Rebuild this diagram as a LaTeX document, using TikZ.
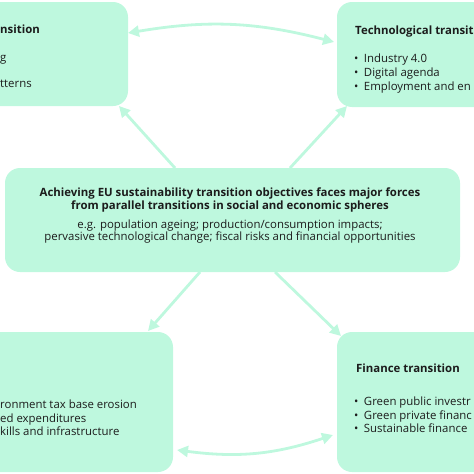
\documentclass[tikz,border=0pt]{standalone}
\usepackage{fontspec}
\setmainfont{Open Sans}
\usetikzlibrary{positioning,arrows.meta}
\definecolor{mint}{HTML}{BEF8DE}
\definecolor{ink}{HTML}{1C1C1C}

\tikzset{
  box/.style={fill=mint, rounded corners=15pt, inner sep=0pt, outer sep=0pt},
  head/.style={font=\bfseries\fontsize{11.4}{12.6}\selectfont, text=ink, inner sep=0pt},
  items/.style={font=\fontsize{11.4}{13.8}\selectfont, text=ink, inner sep=0pt, align=left},
  link/.style={draw=mint, line width=2.8pt, -{Triangle[length=11pt,width=11pt]}},
  twoway/.style={link, {Triangle[length=11pt,width=11pt]}-{Triangle[length=11pt,width=11pt]}}
}
\newcommand{\bul}{\textbullet\hspace{5.5pt}}

\begin{document}
\begin{tikzpicture}[x=1pt,y=-1pt]
    \useasboundingbox (0,0) rectangle (474,474);
    \clip (0,0) rectangle (474,474);

    %% the five boxes
    \node[box, minimum width=188pt, minimum height=104pt] (social) at (34,54) {};
    \node[box, minimum width=203pt, minimum height=105pt] (techno) at (438.5,54.5) {};
    \node[box, minimum width=455pt, minimum height=104pt] (centre) at (232.5,220) {};
    \node[box, minimum width=233pt, minimum height=140pt] (fiscal) at (56.5,402) {};
    \node[box, minimum width=203pt, minimum height=140pt] (finance) at (438.5,402) {};

    %% texts
    \node[head, anchor=base west] (social-head) at (0,33) {nsition};
    \node[items, font=\fontsize{11.4}{26.5}\selectfont, anchor=north west] (social-items) at (0,52.8)
        {\vphantom{I}g\\tterns};

    \node[head, anchor=base west] (techno-head) at (355,34.5) {Technological transit};
    \node[items, anchor=north west] (techno-items) at (354,53.8)
        {\bul Industry 4.0\\ \bul Digital agenda\\ \bul Employment and en};

    \node[head, align=center, anchor=north] (centre-head) at (230,188)
        {Achieving EU sustainability transition objectives faces major forces\\
         from parallel transitions in social and economic spheres};
    \node[items, font=\fontsize{11.4}{12.4}\selectfont, align=center, anchor=north] (centre-items) at (230,219.5)
        {e.g. population ageing; production/consumption impacts;\\
         pervasive technological change; fiscal risks and financial opportunities};

    \node[items, anchor=north west] (fiscal-items) at (0,399.5)
        {ronment tax base erosion\\ed expenditures\\kills and infrastructure};

    \node[head, anchor=base west] (finance-head) at (356,372) {Finance transition};
    \node[items, anchor=north west] (finance-items) at (354,396.5)
        {\bul Green public investr\\ \bul Green private financ\\ \bul Sustainable finance};

    %% links between the transitions
    \draw[twoway] ([yshift=21pt]social.east) to[bend left=12] ([xshift=-3pt,yshift=12.5pt]techno.west);
    \draw[twoway] ([xshift=4pt,yshift=-48pt]fiscal.east) to[bend right=13] ([xshift=-4pt,yshift=-33pt]finance.west);

    %% from the centre out
    \draw[link] ([xshift=-57.5pt]centre.north) -- ([xshift=-9pt]social.south east);
    \draw[link] ([xshift=57.5pt]centre.north) -- ([xshift=10pt,yshift=1pt]techno.south west);
    \draw[link] ([xshift=-32.5pt]centre.south) -- ([xshift=-25pt,yshift=1pt]fiscal.north east);
    \draw[link] ([xshift=42.5pt]centre.south) -- ([xshift=4pt,yshift=-4pt]finance.north west);
\end{tikzpicture}
\end{document}
